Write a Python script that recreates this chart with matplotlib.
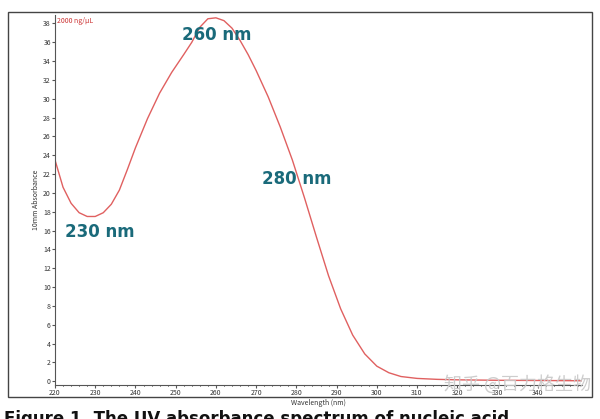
import matplotlib
matplotlib.use("Agg")
import matplotlib.pyplot as plt
from matplotlib.patches import Rectangle
import numpy as np

wl = [220, 222, 224, 226, 228, 230, 232, 234, 236, 238, 240, 243, 246, 249, 252, 254, 256, 258, 260, 262, 264, 266, 268, 270, 273, 276, 279, 282, 285, 288, 291, 294, 297, 300, 303, 306, 310, 315, 320, 330, 340, 351]
ab = [23.5, 20.6, 18.9, 17.9, 17.5, 17.5, 17.9, 18.8, 20.3, 22.5, 24.8, 27.9, 30.6, 32.8, 34.7, 36.0, 37.6, 38.5, 38.6, 38.3, 37.5, 36.2, 34.7, 33.0, 30.2, 27.0, 23.5, 19.5, 15.3, 11.2, 7.7, 4.9, 2.9, 1.6, 0.9, 0.5, 0.3, 0.2, 0.15, 0.1, 0.08, 0.05]
xticks = list(range(220, 350, 10))
yticks = list(range(0, 40, 2))

plt.rcParams['font.family'] = ['Noto Sans CJK SC', 'DejaVu Sans']
fig = plt.figure(figsize=(6, 4.19), dpi=100)
fig.patches.append(Rectangle((8/600, 1-397/419), 584/600, 385/419, transform=fig.transFigure,
                             fill=False, ec='#444444', lw=1))
ax = fig.add_axes([55/600, 1-385/419, 527/600, 370/419])
ax.plot(wl, ab, color='#e06060', lw=1)
ax.set_xlim(220, 351)
ax.set_ylim(-0.4, 38.9)
ax.set_xticks(xticks)
ax.set_xticks(np.arange(220, 351, 2), minor=True)
ax.set_yticks(yticks)
ax.tick_params(labelsize=5, length=2, pad=1, color='#555555', labelcolor='#333333')
ax.tick_params(which='minor', length=1)
for s in ['top', 'right']:
    ax.spines[s].set_visible(False)
for s in ['left', 'bottom']:
    ax.spines[s].set_color('#555555')
ax.set_xlabel('Wavelength (nm)', fontsize=5, labelpad=1, color='#333333')
ax.set_ylabel('10mm Absorbance', fontsize=5, labelpad=2, color='#333333')
ax.text(0.003, 0.995, '2000 ng/µL', transform=ax.transAxes, fontsize=5, color='#cc3333', va='top')
tc = '#1a6a7a'
ax.text(251.5, 36.8, '260 nm', fontsize=12, fontweight='bold', color=tc, va='center', family='DejaVu Sans')
ax.text(271.5, 21.5, '280 nm', fontsize=12, fontweight='bold', color=tc, va='center', family='DejaVu Sans')
ax.text(222.5, 15.8, '230 nm', fontsize=12, fontweight='bold', color=tc, va='center', family='DejaVu Sans')
fig.text(0.985, 1-384/419, '知乎 @百力格生物', fontsize=13, color='#c8c8c8', ha='right', va='center', alpha=0.9)
fig.text(4/600, 1-419/419, 'Figure 1. The UV absorbance spectrum of nucleic acid',
         fontsize=12, fontweight='bold', color='#111111', family='DejaVu Sans', va='center')
fig.savefig('out.png', dpi=100)
